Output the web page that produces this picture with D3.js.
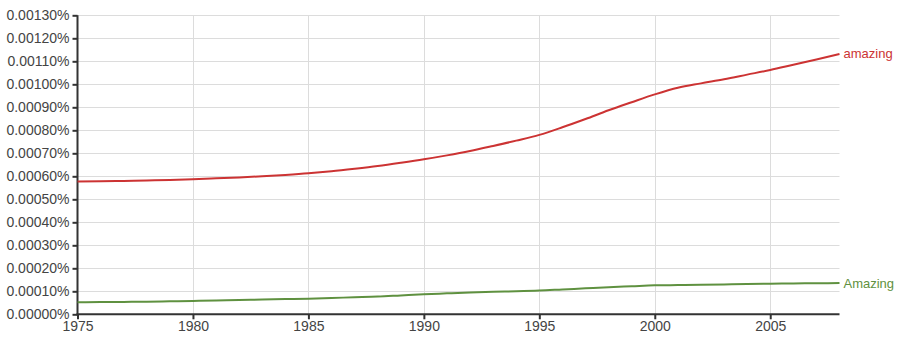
<!DOCTYPE html>
<html><head><meta charset="utf-8">
<script src="https://cdn.jsdelivr.net/npm/d3@7"></script>
<style>body{margin:0;background:#fff}svg{display:block;font-family:"Liberation Sans",Arial,sans-serif}</style>
</head><body><svg id="c" width="900" height="342"></svg>
<script>
const years = d3.range(1975, 2009);
// values in percent
const amazingLower = [5.77,5.78,5.80,5.82,5.84,5.87,5.91,5.95,6.00,6.06,6.13,6.22,6.33,6.45,6.59,6.74,6.91,7.10,7.32,7.55,7.80,8.13,8.49,8.87,9.22,9.56,9.85,10.04,10.22,10.42,10.62,10.85,11.08,11.32].map(v=>v*1e-4);
const amazingUpper = [0.52,0.53,0.54,0.55,0.565,0.58,0.60,0.62,0.64,0.66,0.68,0.71,0.74,0.77,0.82,0.87,0.91,0.95,0.98,1.00,1.03,1.08,1.13,1.18,1.22,1.26,1.27,1.28,1.30,1.32,1.33,1.34,1.35,1.36].map(v=>v*1e-4);
const seriesNames = ["amazing","Amazing"];
const seriesColors = ["#cc3333","#5f9140"];
const yTicks = d3.range(0, 14).map(i=>i*1e-4);
const xTicks = [1975,1980,1985,1990,1995,2000,2005];

const svg = d3.select("#c");
const L=77.5, R=839.5, T=15.3, B=314.3;
const x = d3.scaleLinear().domain([1975,2008]).range([L,R]);
const y = d3.scaleLinear().domain([0,0.0013]).range([B,T]);

// grid
svg.append("g").selectAll("line").data(yTicks.slice(1)).join("line")
  .attr("x1",L).attr("x2",R).attr("y1",d=>Math.round(y(d))+0.5).attr("y2",d=>Math.round(y(d))+0.5)
  .attr("stroke","#dcdcdc").attr("stroke-width",1);
svg.append("g").selectAll("line").data(xTicks.slice(1)).join("line")
  .attr("y1",T).attr("y2",B).attr("x1",d=>Math.round(x(d))+0.5).attr("x2",d=>Math.round(x(d))+0.5)
  .attr("stroke","#dcdcdc").attr("stroke-width",1);

// axes
const yAxis = d3.axisLeft(y).tickValues(yTicks).tickSize(5).tickPadding(3)
  .tickFormat(d=>d.toFixed(5)+"%");
const gy = svg.append("g").attr("transform",`translate(${L},0)`).call(yAxis);
gy.select(".domain").attr("stroke","#333").attr("stroke-width",2).attr("d",`M0,${T}V${B+1}`);
gy.selectAll(".tick line").attr("stroke","#333").attr("stroke-width",2);
gy.selectAll("text").attr("font-size",14).attr("fill","#444").attr("font-family","Liberation Sans, Arial, sans-serif");

const xAxis = d3.axisBottom(x).tickValues(xTicks).tickSize(5).tickPadding(2).tickFormat(d3.format("d"));
const gx = svg.append("g").attr("transform",`translate(0,${B})`).call(xAxis);
gx.select(".domain").attr("stroke","#333").attr("stroke-width",2).attr("d",`M${L-1},0H${R}`);
gx.selectAll(".tick line").attr("stroke","#333").attr("stroke-width",2);
gx.selectAll("text").attr("font-size",14).attr("fill","#444").attr("font-family","Liberation Sans, Arial, sans-serif");

// lines
const line = d3.line().x((d,i)=>x(years[i])).y(d=>y(d)).curve(d3.curveMonotoneX);
[amazingLower, amazingUpper].forEach((s,k)=>{
  svg.append("path").datum(s).attr("d",line).attr("fill","none")
    .attr("stroke",seriesColors[k]).attr("stroke-width",2);
  svg.append("text").attr("x",x(2008)+4).attr("y",y(s[s.length-1])+4.5)
    .attr("font-size",13).attr("fill",seriesColors[k]).text(seriesNames[k]);
});
</script></body></html>
